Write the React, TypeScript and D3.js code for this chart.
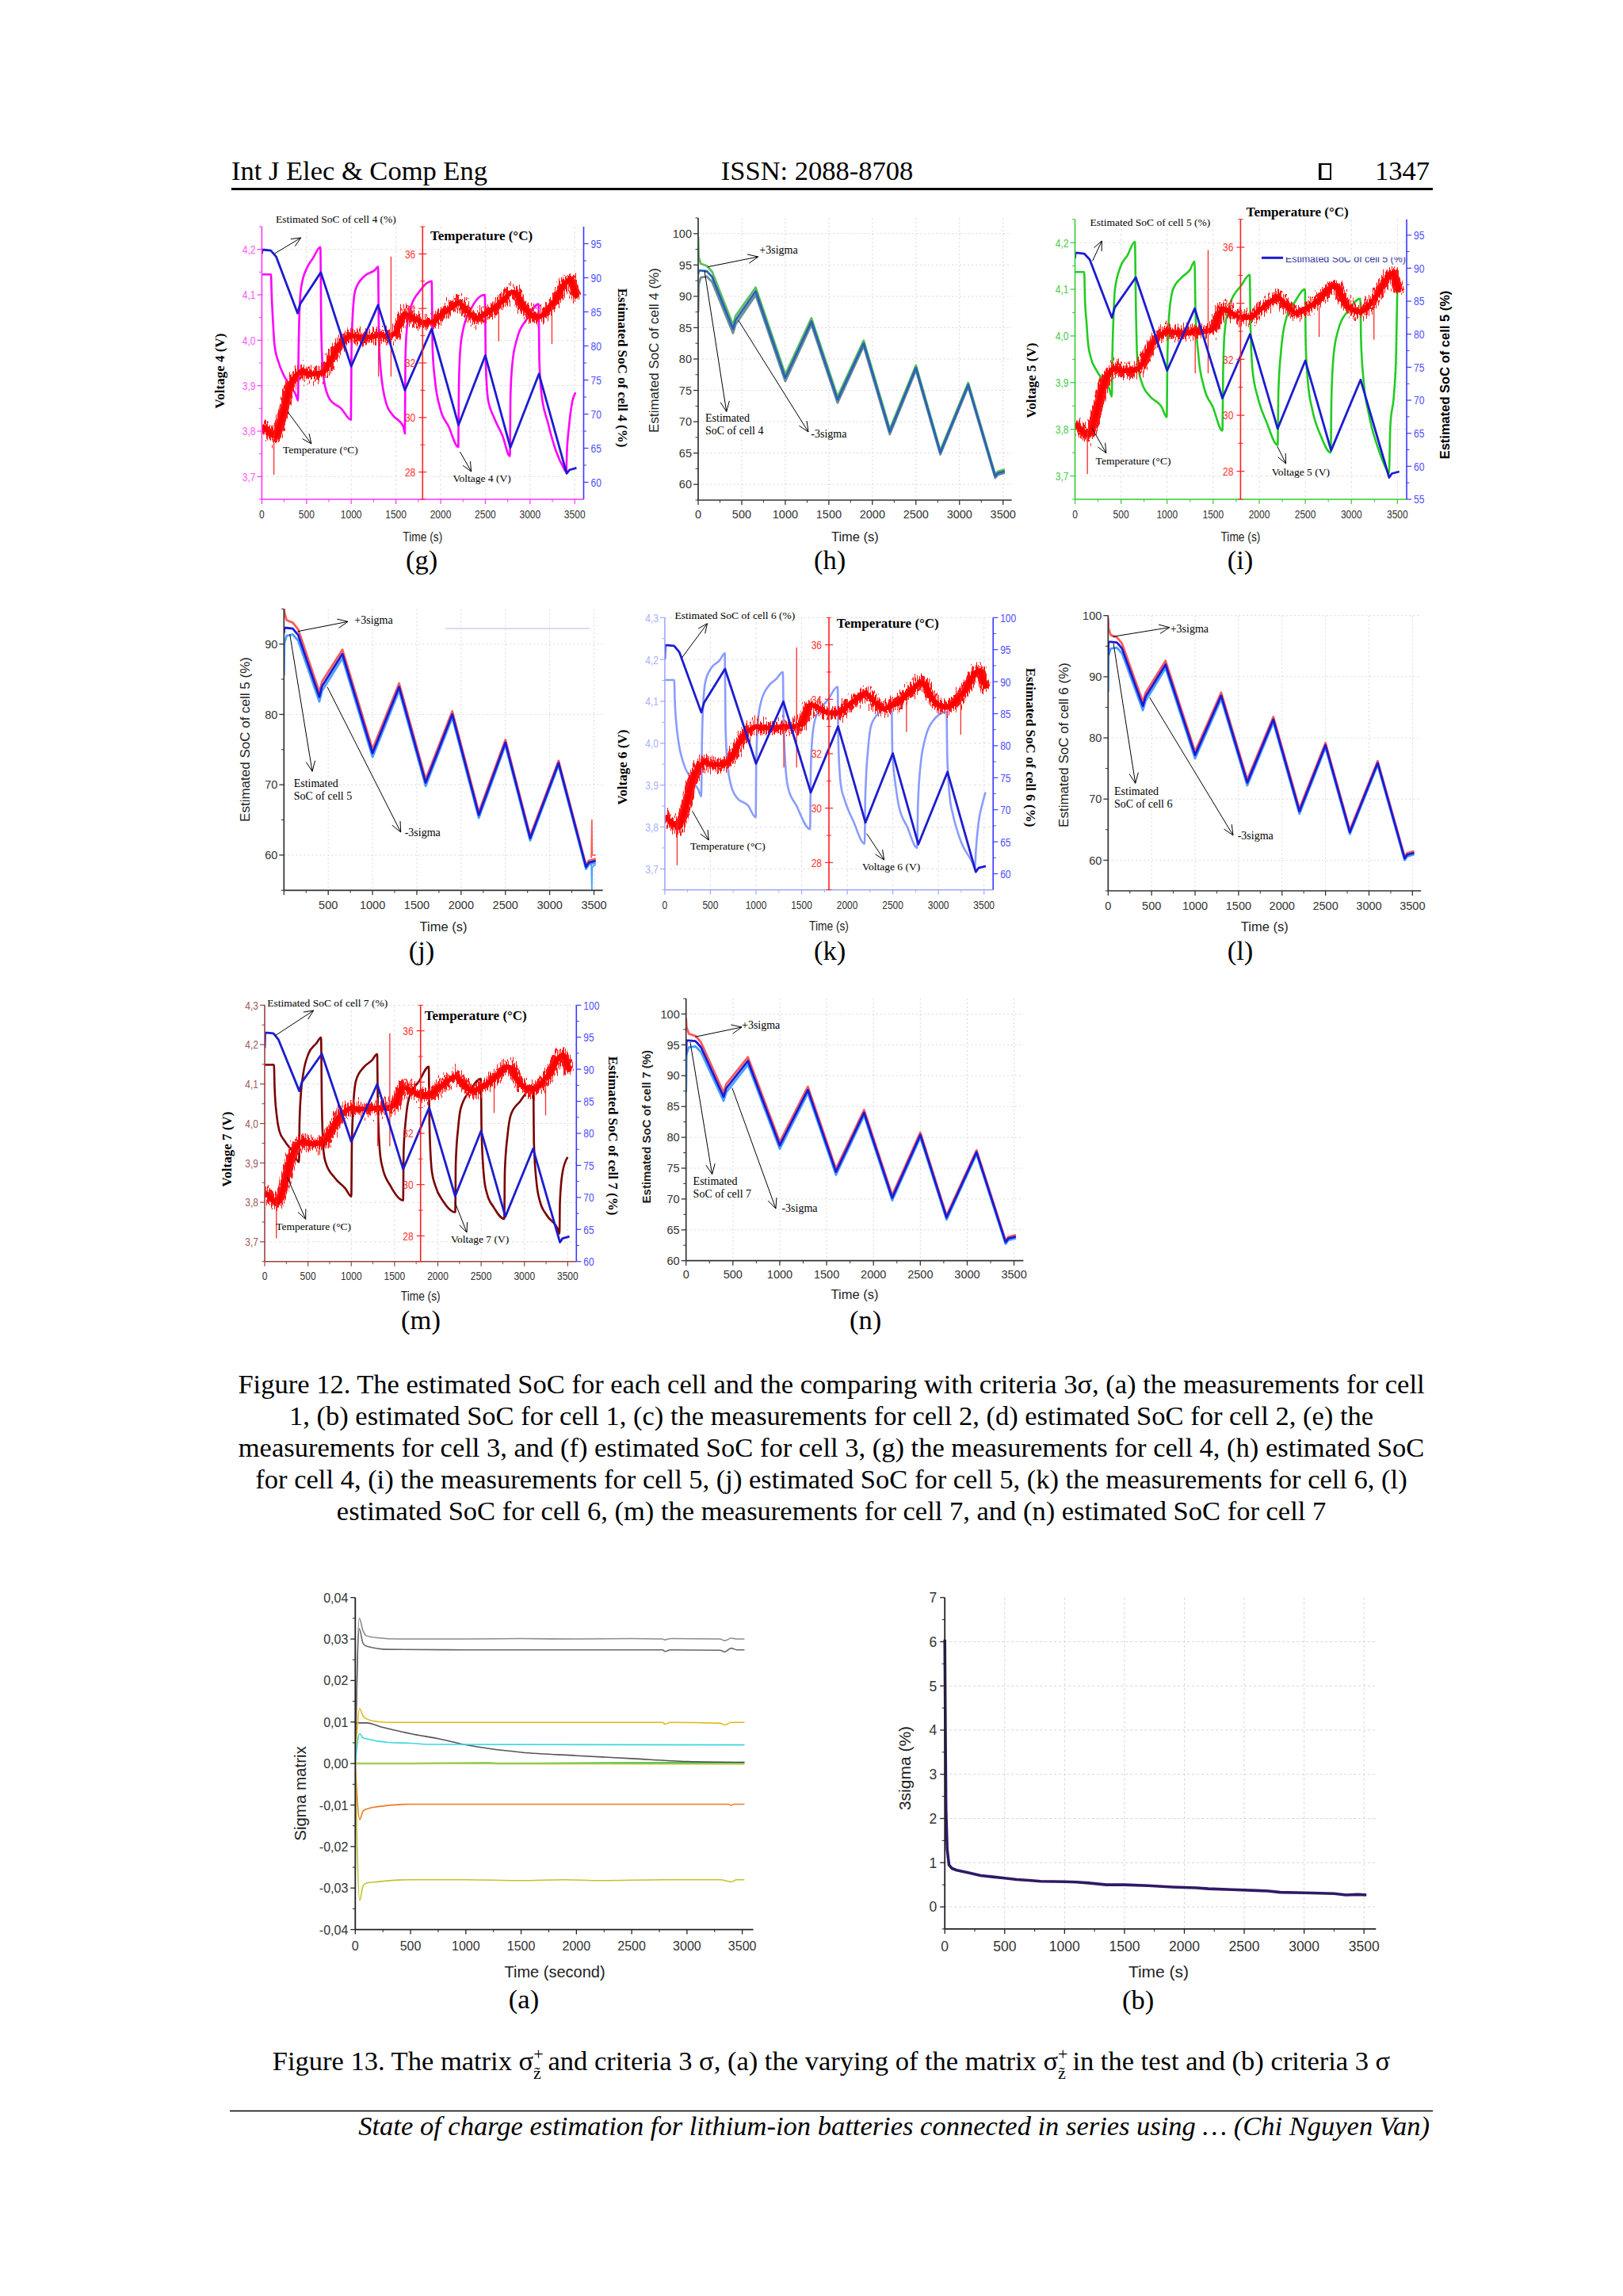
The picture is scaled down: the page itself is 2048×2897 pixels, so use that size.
import React from 'react';
import * as d3 from 'd3';

const SERIF = "'Liberation Serif','Times New Roman',Times,serif";
const SANS = "'Liberation Sans',Arial,Helvetica,sans-serif";
const BODY = 34.5;

// ---------------- data ----------------
const xDomain = [0, 3600];
const timeMajor = [0, 500, 1000, 1500, 2000, 2500, 3000, 3500];
const timeMinor = [250, 750, 1250, 1750, 2250, 2750, 3250];
const tempDomain = [27, 37];
const tempTicks = [28, 30, 32, 34, 36];
const tempMinor = [27, 29, 31, 33, 35, 37];
const volt42Ticks = [3.7, 3.8, 3.9, 4.0, 4.1, 4.2];
const volt43Ticks = [3.7, 3.8, 3.9, 4.0, 4.1, 4.2, 4.3];
const socTicks55 = [55, 60, 65, 70, 75, 80, 85, 90, 95];
const socTicks60 = [60, 65, 70, 75, 80, 85, 90, 95];
const socTicks60to100 = [60, 65, 70, 75, 80, 85, 90, 95, 100];
const socTicks10 = [60, 70, 80, 90];
const socTicks10to100 = [60, 70, 80, 90, 100];

const socTimes = [0, 5, 30, 100, 120, 160, 400, 430, 660, 1000, 1300, 1600, 1900, 2200, 2500, 2780, 3100, 3410, 3440, 3520];
const socCell4 = [93.5, 94.1, 94.1, 94.0, 93.7, 93.1, 84.8, 86.2, 90.8, 77.0, 86.0, 73.5, 82.5, 68.4, 78.6, 65.1, 75.9, 61.3, 61.8, 62.1];
const socCell5 = [91.5, 92.3, 92.3, 92.2, 91.9, 91.3, 82.5, 84.0, 88.6, 74.5, 83.9, 70.3, 80.0, 65.7, 76.0, 62.4, 73.1, 58.3, 58.9, 59.2];
const socCell6 = [93.5, 95.7, 95.7, 95.6, 95.3, 94.6, 85.2, 86.7, 92.0, 77.2, 86.9, 72.7, 83.0, 68.0, 78.8, 64.6, 75.9, 60.3, 60.9, 61.2];
const socCell7 = [93.3, 95.7, 95.7, 95.6, 95.3, 94.6, 86.6, 88.0, 92.4, 78.7, 87.7, 74.4, 84.0, 70.2, 80.4, 67.0, 77.6, 63.0, 63.6, 63.9];
const sigmaBand = [6.0, 2.2, 1.1, 0.85, 0.84, 0.8, 0.68, 0.67, 0.61, 0.56, 0.52, 0.49, 0.45, 0.42, 0.39, 0.33, 0.31, 0.28, 0.28, 0.27];
// end-of-test glitches on the +/-3sigma bounds of cell 5: [time, from, to]
const cell5UpperGlitch = [3476, 59.6, 65.0];
const cell5LowerGlitch = [3476, 58.9, 55.0];

const voltCell4 = [[0,4.145],[102,4.145],[110,4.10],[125,4.04],[142,3.99],[190,3.95],[253,3.92],[317,3.90],[380,3.88],[405,3.867],
  [410,3.96],[425,4.08],[443,4.12],[507,4.16],[570,4.18],[655,4.205],
  [665,4.02],[680,3.94],[697,3.91],[760,3.87],[887,3.85],[997,3.825],
  [1003,3.98],[1015,4.05],[1045,4.11],[1140,4.14],[1267,4.155],[1300,4.162],
  [1310,4.00],[1330,3.935],[1393,3.86],[1457,3.837],[1583,3.81],[1600,3.795],
  [1606,3.96],[1620,4.02],[1647,4.06],[1773,4.11],[1900,4.13],
  [1910,3.98],[1938,3.91],[1995,3.85],[2090,3.81],[2198,3.765],
  [2204,3.90],[2220,3.98],[2248,4.02],[2343,4.07],[2495,4.10],
  [2505,3.95],[2530,3.87],[2597,3.83],[2692,3.79],[2775,3.745],
  [2782,3.88],[2803,3.95],[2850,4.00],[2977,4.05],[3095,4.08],
  [3105,3.95],[3130,3.88],[3198,3.82],[3293,3.755],[3373,3.72],[3405,3.71],
  [3412,3.75],[3436,3.81],[3468,3.86],[3510,3.885]];
const voltCell5 = [[0,4.137],[100,4.137],[108,4.08],[125,4.03],[139,3.99],[170,3.955],[231,3.927],[293,3.908],[370,3.888],[400,3.87],
  [405,3.95],[418,4.04],[432,4.097],[493,4.148],[570,4.173],[650,4.202],
  [662,4.05],[678,3.944],[725,3.90],[817,3.87],[940,3.848],[996,3.826],
  [1003,3.95],[1018,4.035],[1064,4.10],[1156,4.125],[1249,4.142],[1298,4.16],
  [1308,4.05],[1341,3.956],[1403,3.888],[1496,3.848],[1600,3.797],
  [1608,3.92],[1625,4.01],[1681,4.068],[1804,4.108],[1897,4.131],
  [1905,4.02],[1927,3.927],[1989,3.865],[2082,3.814],[2200,3.766],
  [2208,3.88],[2236,3.967],[2282,4.03],[2390,4.074],[2496,4.10],
  [2505,3.98],[2529,3.90],[2575,3.843],[2668,3.786],[2776,3.75],
  [2784,3.87],[2806,3.956],[2853,4.01],[2976,4.057],[3097,4.08],
  [3105,3.99],[3130,3.91],[3192,3.83],[3284,3.763],[3392,3.71],[3408,3.705],
  [3423,3.808],[3463,3.876],[3485,3.956],[3500,4.114]];
const voltCell6 = [[0,4.151],[103,4.151],[110,4.10],[125,4.05],[150,4.003],[196,3.958],[290,3.914],[368,3.889],[400,3.873],
  [405,3.97],[420,4.09],[446,4.148],[508,4.179],[602,4.198],[658,4.215],
  [665,4.05],[685,3.95],[711,3.914],[789,3.87],[913,3.851],[997,3.823],
  [1003,3.96],[1020,4.05],[1053,4.097],[1131,4.135],[1225,4.154],[1294,4.17],
  [1303,4.05],[1322,3.95],[1350,3.895],[1443,3.851],[1593,3.795],
  [1600,3.93],[1620,4.02],[1661,4.066],[1786,4.103],[1895,4.135],
  [1903,4.00],[1930,3.90],[1973,3.864],[2067,3.814],[2191,3.76],
  [2198,3.87],[2230,3.99],[2269,4.047],[2378,4.078],[2487,4.091],
  [2495,3.98],[2530,3.90],[2565,3.851],[2659,3.80],[2768,3.75],
  [2775,3.85],[2810,3.96],[2846,4.003],[2939,4.053],[3089,4.075],
  [3097,3.97],[3125,3.87],[3157,3.832],[3251,3.763],[3376,3.713],[3400,3.70],
  [3410,3.74],[3438,3.807],[3485,3.858],[3516,3.883]];
const voltCell7 = [[0,4.149],[107,4.149],[115,4.09],[138,4.022],[168,3.982],[229,3.956],[321,3.929],[397,3.902],
  [402,4.00],[420,4.08],[443,4.123],[504,4.176],[596,4.203],[651,4.218],
  [660,4.05],[680,3.93],[703,3.902],[810,3.862],[932,3.835],[1000,3.815],
  [1007,3.95],[1025,4.05],[1055,4.109],[1146,4.143],[1238,4.16],[1299,4.176],
  [1307,4.05],[1330,3.93],[1360,3.889],[1452,3.842],[1599,3.805],
  [1605,3.93],[1630,4.01],[1666,4.063],[1788,4.109],[1895,4.144],
  [1903,4.00],[1930,3.88],[1971,3.842],[2063,3.802],[2201,3.775],
  [2207,3.90],[2235,3.99],[2262,4.036],[2369,4.083],[2497,4.113],
  [2505,3.98],[2535,3.86],[2568,3.822],[2644,3.788],[2767,3.758],
  [2774,3.88],[2805,3.97],[2843,4.022],[2950,4.056],[3103,4.093],
  [3110,3.95],[3140,3.85],[3180,3.802],[3256,3.768],[3393,3.728],[3405,3.72],
  [3410,3.80],[3439,3.875],[3500,3.915]];

const tempTimes = [0, 100, 150, 200, 250, 300, 350, 400, 450, 500, 600, 700, 750, 800, 900, 950, 1000, 1100, 1200, 1300, 1400, 1500, 1550, 1600, 1700, 1800, 1900, 2000, 2100, 2200, 2300, 2400, 2500, 2600, 2700, 2800, 2850, 2900, 3000, 3100, 3200, 3300, 3400, 3450, 3500, 3520];
const tempValues = [29.7, 29.4, 29.3, 29.7, 30.3, 31.0, 31.4, 31.6, 31.7, 31.6, 31.6, 31.7, 32.0, 32.3, 32.8, 32.9, 33.0, 32.95, 32.95, 33.0, 33.0, 33.1, 33.5, 33.8, 33.65, 33.5, 33.5, 33.75, 34.0, 34.2, 33.9, 33.65, 33.8, 34.0, 34.3, 34.6, 34.55, 34.2, 33.8, 33.7, 33.95, 34.4, 34.96, 35.05, 34.6, 34.4];
const tempSpikes = [[135, 29.4, 27.9], [1305, 33.0, 31.5], [1445, 31.5, 35.9], [2650, 33.9, 32.8], [3245, 34.1, 32.7]];

// Figure 13 (a): sigma matrix entries
const sigA1 = [[0,0],[36,0.035],[70,0.032],[100,0.0308],[200,0.0303],[400,0.0300],[1000,0.0300],[1500,0.0301],[2000,0.0300],[2500,0.0301],[2780,0.0300],[2800,0.0298],[2850,0.0301],[3300,0.0300],[3340,0.0296],[3400,0.0302],[3450,0.0300],[3520,0.0300]];
const sigA2 = [[0,0],[36,0.0325],[70,0.029],[100,0.0283],[300,0.0275],[1000,0.0274],[2000,0.0274],[2780,0.0274],[2800,0.0270],[2850,0.0274],[3300,0.0273],[3340,0.0269],[3400,0.0278],[3450,0.0274],[3520,0.0274]];
const sigA3 = [[0,0],[40,0.0132],[70,0.0115],[100,0.0108],[200,0.0101],[300,0.0099],[2780,0.0099],[2800,0.0095],[2850,0.0099],[3300,0.0097],[3340,0.0093],[3400,0.0099],[3520,0.0099]];
const sigA4 = [[0,0.0098],[100,0.0098],[250,0.0087],[500,0.0072],[750,0.006],[1000,0.0045],[1500,0.0027],[2000,0.0019],[2500,0.0012],[3000,0.0005],[3520,0.0003]];
const sigA5 = [[0,0],[40,0.0072],[70,0.0062],[100,0.006],[200,0.0054],[300,0.0051],[500,0.0049],[700,0.0046],[3520,0.0045]];
const sigA6 = [[0,0],[500,0.0],[1200,0.0001],[1300,0.0],[3520,0.0002]];
const sigA7 = [[0,0],[3520,-0.0002]];
const sigA8 = [[0,0],[40,-0.0135],[70,-0.0115],[100,-0.011],[200,-0.0104],[500,-0.0098],[3380,-0.0098],[3400,-0.0101],[3420,-0.0098],[3520,-0.0098]];
const sigA9 = [[0,0],[40,-0.033],[70,-0.0295],[100,-0.0288],[200,-0.0285],[500,-0.0280],[1000,-0.0280],[1500,-0.0282],[1900,-0.0280],[2200,-0.0282],[2800,-0.0280],[3300,-0.0280],[3400,-0.0285],[3450,-0.028],[3520,-0.028]];
const sigATicks = [-0.04, -0.03, -0.02, -0.01, 0, 0.01, 0.02, 0.03, 0.04];

// Figure 13 (b): 3 sigma (%)
const threeSigma = [[0,6.05],[5,4.0],[10,2.2],[20,1.3],[35,0.95],[60,0.87],[100,0.83],[200,0.77],[300,0.71],[400,0.68],[500,0.65],[600,0.62],[700,0.6],[800,0.58],[1000,0.57],[1100,0.56],[1200,0.54],[1350,0.5],[1500,0.5],[1700,0.48],[1900,0.45],[2100,0.43],[2200,0.41],[2400,0.39],[2600,0.37],[2700,0.36],[2800,0.33],[3000,0.32],[3250,0.3],[3350,0.27],[3450,0.28],[3520,0.27]];
const threeSigmaTicks = [0, 1, 2, 3, 4, 5, 6, 7];

const caption12 = [
  'Figure 12. The estimated SoC for each cell and the comparing with criteria 3σ, (a) the measurements for cell',
  '1, (b) estimated SoC for cell 1, (c) the measurements for cell 2, (d) estimated SoC for cell 2, (e) the',
  'measurements for cell 3, and (f) estimated SoC for cell 3, (g) the measurements for cell 4, (h) estimated SoC',
  'for cell 4, (i) the measurements for cell 5, (j) estimated SoC for cell 5, (k) the measurements for cell 6, (l)',
  'estimated SoC for cell 6, (m) the measurements for cell 7, and (n) estimated SoC for cell 7',
];
const footerText = 'State of charge estimation for lithium-ion batteries connected in series using … (Chi Nguyen Van)';

// ---------------- layouts ----------------
const gLay = { L: 330.4, R: 736.5, redX: 533.3, T: 286, B: 630, vDom: [3.65, 4.25], vTicks: volt42Ticks, socDom: [57.5, 97.5], socTicks: socTicks60,
  vColor: '#ff00ff', vAxis: '#ff33ff', vLab: '#ff55ff', cell: 4, leftLabel: [277, 468], rightLabel: [786, 464], rightRot: 90, rightSans: false,
  tempTitle: [543, 303], socNote: [348, 281], tempNote: [357, 572], voltNote: [571.5, 608],
  socArrow: [346.5, 320, 379.7, 300], tempArrow: [363.3, 520, 392.9, 560], voltArrow: [580.4, 570, 594.7, 595],
  xLabY: 654, timeY: 683, sub: '(g)', subPos: [532, 718] };
const iLay = { L: 1356.5, R: 1775, redX: 1565.4, T: 276.7, B: 630, vDom: [3.65, 4.25], vTicks: volt42Ticks, socDom: [55, 97.4], socTicks: socTicks55,
  vColor: '#22cc22', vAxis: '#33cc33', vLab: '#44cc44', cell: 5, leftLabel: [1301, 480], rightLabel: [1822.6, 473], rightRot: -90, rightSans: true,
  tempTitle: [1572.6, 273], socNote: [1375.4, 285], tempNote: [1382.6, 586], voltNote: [1604.7, 600],
  socArrow: [1378.6, 329.3, 1390.4, 304], tempArrow: [1377.9, 540, 1395.8, 571.7], voltArrow: [1611.9, 563.3, 1622.6, 585],
  xLabY: 654, timeY: 683, sub: '(i)', subPos: [1565, 718], legend: true };
const kLay = { L: 838.9, R: 1253.2, redX: 1046, T: 779.3, B: 1122.7, vDom: [3.65, 4.3], vTicks: volt43Ticks, socDom: [57.5, 100], socTicks: socTicks60to100,
  vColor: '#8a9bff', vAxis: '#a0a8ff', vLab: '#a8b0ff', cell: 6, leftLabel: [785, 968], rightLabel: [1301.4, 943], rightRot: 90, rightSans: false,
  tempTitle: [1055.7, 791.7], socNote: [851.4, 780.7], tempNote: [871, 1071.7], voltNote: [1087.9, 1098.3],
  socArrow: [860.4, 830, 892.5, 786.7], tempArrow: [873.6, 1023.3, 894.3, 1060], voltArrow: [1093.6, 1051.7, 1115.7, 1085],
  xLabY: 1147, timeY: 1174, sub: '(k)', subPos: [1047, 1211] };
const mLay = { L: 334, R: 727.3, redX: 530.7, T: 1268.3, B: 1591.7, vDom: [3.65, 4.3], vTicks: volt43Ticks, socDom: [60, 100], socTicks: socTicks60to100,
  vColor: '#7a0000', vAxis: '#9c4040', vLab: '#a05a5a', cell: 7, leftLabel: [285.7, 1450], rightLabel: [774, 1433], rightRot: 90, rightSans: false,
  tempTitle: [535.7, 1286.7], socNote: [337.3, 1270], tempNote: [348.3, 1551.7], voltNote: [569, 1568.3],
  socArrow: [347.3, 1306.7, 395.7, 1275], tempArrow: [362.3, 1485, 385.7, 1538.3], voltArrow: [574, 1516.7, 589, 1555],
  xLabY: 1615, timeY: 1641, sub: '(m)', subPos: [531, 1677] };

const blueSet = { up: '#ff5a5a', est: '#1a1ad8', lo: '#4aa0ff' };
const hLay = { L: 881, R: 1276.7, T: 275, B: 631, yDom: [57.5, 102.5], yTicks: socTicks60to100, yMinorStep: 2.5, showZero: true, cell: 4,
  yLab: [825, 442], yLabBold: false, yLabSize: 17, xLabY: 654, timeY: 683, sub: '(h)', subPos: [1047, 718],
  cols: { up: '#5cbf5c', est: '#2a62b8', lo: '#6f8f99' }, plus: [958.3, 320], est: [890, 531.7], minus: [1023.3, 551.7],
  aPlus: [893.3, 336.7, 956.7, 324], aEst: [889, 341.7, 916.7, 519.3], aMinus: [931.7, 404, 1020, 545] };
const jLay = { L: 358.3, R: 760.7, T: 768.3, B: 1123.3, yDom: [55, 95], yTicks: socTicks10, yMinorStep: 5, showZero: false, cell: 5,
  yLab: [309, 933], yLabBold: false, yLabSize: 17, xLabY: 1147, timeY: 1175, sub: '(j)', subPos: [532, 1211],
  cols: blueSet, plus: [447.3, 786.7], est: [370.7, 993.3], minus: [510.7, 1055],
  aPlus: [375.7, 796.7, 439, 784.3], aEst: [365.7, 800, 394, 973.3], aMinus: [413, 866.7, 505.7, 1050], stray: [562, 793, 744],
  glitchUp: cell5UpperGlitch, glitchLo: cell5LowerGlitch };
const lLay = { L: 1398.3, R: 1793.3, T: 776.7, B: 1124, yDom: [55, 100], yTicks: socTicks10to100, yMinorStep: 5, showZero: true, cell: 6,
  yLab: [1341.7, 940], yLabBold: false, yLabSize: 17, xLabY: 1148, timeY: 1175, sub: '(l)', subPos: [1565, 1211],
  cols: blueSet, plus: [1476.7, 798.3], est: [1406, 1003.3], minus: [1561.7, 1059.3],
  aPlus: [1404, 803.3, 1475.7, 791.7], aEst: [1405, 811.7, 1432.7, 988.3], aMinus: [1450.7, 880, 1556, 1054] };
const nLay = { L: 865.7, R: 1291.4, T: 1260, B: 1590.7, yDom: [60, 102.5], yTicks: socTicks60to100, yMinorStep: 2.5, showZero: true, cell: 7,
  yLab: [815.7, 1421.7], yLabBold: true, yLabSize: 15, xLabY: 1613, timeY: 1639, sub: '(n)', subPos: [1092, 1677],
  cols: blueSet, plus: [936, 1298.3], est: [874.6, 1495], minus: [986.4, 1529.3],
  aPlus: [877.1, 1308.3, 936, 1296], aEst: [871, 1315, 898.6, 1481.7], aMinus: [923.9, 1372.7, 978.9, 1525] };

// ---------------- helpers ----------------
function Txt(p: any) {
  const { x, y, size = 14, fam = SERIF, w = 'normal', anchor = 'start', fill = '#000', rot = 0, sx = 1, it = false, children } = p;
  let tr = `translate(${x},${y})`;
  if (rot) tr += ` rotate(${rot})`;
  if (sx !== 1) tr += ` scale(${sx},1)`;
  return (
    <text transform={tr} fontSize={size} fontFamily={fam} fontWeight={w} textAnchor={anchor} fill={fill} fontStyle={it ? 'italic' : 'normal'}>
      {children}
    </text>
  );
}
function VTxt(p: any) {
  const { cx, cy, rot, size, ...rest } = p;
  const bx = cx + (rot < 0 ? 0.36 : -0.36) * size;
  return <Txt x={bx} y={cy} rot={rot} size={size} anchor="middle" {...rest} />;
}
function Arrow({ a, head = 13, spread = 0.42, color = '#000', width = 1 }: any) {
  const [x1, y1, x2, y2] = a;
  const ang = Math.atan2(y2 - y1, x2 - x1);
  const h1 = [x2 - head * Math.cos(ang - spread), y2 - head * Math.sin(ang - spread)];
  const h2 = [x2 - head * Math.cos(ang + spread), y2 - head * Math.sin(ang + spread)];
  return (
    <g stroke={color} strokeWidth={width} fill="none">
      <line x1={x1} y1={y1} x2={x2} y2={y2} />
      <polyline points={`${h1[0]},${h1[1]} ${x2},${y2} ${h2[0]},${h2[1]}`} />
    </g>
  );
}
const comma = (v: number, d: number) => v.toFixed(d).replace('.', ',');

// ---------------- measurement chart ----------------
function Meas({ c, volt, soc }: any) {
  const x = d3.scaleLinear().domain(xDomain).range([c.L, c.R]);
  const yV = d3.scaleLinear().domain(c.vDom).range([c.B, c.T]);
  const yT = d3.scaleLinear().domain(tempDomain).range([c.B, c.T]);
  const yS = d3.scaleLinear().domain(c.socDom).range([c.B, c.T]);
  const vPath = d3.line<any>().x((d: any) => x(d[0])).y((d: any) => yV(d[1])).curve(d3.curveMonotoneX)(volt) || '';
  const tPath = d3.line<any>().x((_: any, i: number) => x(tempTimes[i])).y((d: any) => yT(d)).curve(d3.curveMonotoneX)(tempValues) || '';
  const sPath = d3.line<any>().x((_: any, i: number) => x(socTimes[i])).y((d: any) => yS(d))(soc) || '';
  const vMinor = d3.range(c.vDom[0], c.vDom[1] + 0.001, 0.1);
  const sMinor = c.socTicks.map((v: number) => v + 2.5).filter((v: number) => v < c.socDom[1]);
  const cid = 'clipM' + c.cell;
  const ls = 15, lsx = 0.8;
  return (
    <g>
      <defs>
        <clipPath id={cid}><rect x={c.L} y={c.T - 3} width={c.R - c.L} height={c.B - c.T + 3} /></clipPath>
      </defs>
      <g stroke="#e0e0e0" strokeWidth={1} strokeDasharray="3,3">
        {timeMajor.slice(1).map((t) => <line key={t} x1={x(t)} x2={x(t)} y1={c.T} y2={c.B} />)}
        {c.vTicks.map((v: number) => <line key={v} x1={c.L} x2={c.R} y1={yV(v)} y2={yV(v)} />)}
      </g>
      <g clipPath={`url(#${cid})`} fill="none" strokeLinejoin="round">
        <path d={vPath} stroke={c.vColor} strokeWidth={2.6} />
        <path d={tPath} stroke="#ff1414" strokeWidth={13} filter="url(#tnoise)" />
        <path d={tPath} stroke="#ff0000" strokeWidth={6} />
        {tempSpikes.map((s, i) => (
          <line key={i} x1={x(s[0])} x2={x(s[0])} y1={yT(s[1])} y2={yT(s[2])} stroke="#ff2a2a" strokeWidth={1.3} />
        ))}
        <path d={sPath} stroke="#1c1cd0" strokeWidth={2.8} />
      </g>
      {/* bottom axis */}
      <line x1={c.L} x2={c.R} y1={c.B} y2={c.B} stroke={c.vAxis} strokeWidth={1.6} />
      {timeMajor.map((t) => <line key={'M' + t} x1={x(t)} x2={x(t)} y1={c.B} y2={c.B + 6} stroke={c.vAxis} strokeWidth={1.2} />)}
      {timeMinor.map((t) => <line key={'m' + t} x1={x(t)} x2={x(t)} y1={c.B} y2={c.B + 3.5} stroke={c.vAxis} strokeWidth={1} />)}
      {timeMajor.map((t) => <Txt key={'l' + t} x={x(t)} y={c.xLabY} size={ls} fam={SANS} anchor="middle" sx={lsx} fill="#333">{t}</Txt>)}
      <Txt x={c.redX} y={c.timeY} size={16} fam={SANS} anchor="middle" sx={0.86} fill="#222">Time (s)</Txt>
      {/* left voltage axis */}
      <line x1={c.L} x2={c.L} y1={c.T} y2={c.B} stroke={c.vAxis} strokeWidth={1.6} />
      {c.vTicks.map((v: number) => <line key={'vt' + v} x1={c.L - 6} x2={c.L} y1={yV(v)} y2={yV(v)} stroke={c.vAxis} strokeWidth={1.2} />)}
      {vMinor.map((v: number, i: number) => <line key={'vm' + i} x1={c.L - 3.5} x2={c.L} y1={yV(v)} y2={yV(v)} stroke={c.vAxis} strokeWidth={1} />)}
      {c.vTicks.map((v: number) => <Txt key={'vl' + v} x={c.L - 8} y={yV(v) + ls * 0.36} size={ls} fam={SANS} anchor="end" sx={lsx} fill={c.vLab}>{comma(v, 1)}</Txt>)}
      {/* temperature axis */}
      <line x1={c.redX} x2={c.redX} y1={c.T} y2={c.B} stroke="#ff2020" strokeWidth={1.6} />
      {tempTicks.map((v) => <line key={'tt' + v} x1={c.redX - 5} x2={c.redX + 5} y1={yT(v)} y2={yT(v)} stroke="#ff2020" strokeWidth={1.2} />)}
      {tempMinor.map((v) => <line key={'tm' + v} x1={c.redX - 3} x2={c.redX + 3} y1={yT(v)} y2={yT(v)} stroke="#ff2020" strokeWidth={1} />)}
      {tempTicks.map((v) => <Txt key={'tl' + v} x={c.redX - 9} y={yT(v) + ls * 0.36} size={ls} fam={SANS} anchor="end" sx={lsx} fill="#ff3030">{v}</Txt>)}
      {/* SoC axis */}
      <line x1={c.R} x2={c.R} y1={c.T} y2={c.B} stroke="#3a3aff" strokeWidth={1.6} />
      {c.socTicks.map((v: number) => <line key={'st' + v} x1={c.R} x2={c.R + 6} y1={yS(v)} y2={yS(v)} stroke="#3a3aff" strokeWidth={1.2} />)}
      {sMinor.map((v: number) => <line key={'sm' + v} x1={c.R} x2={c.R + 3.5} y1={yS(v)} y2={yS(v)} stroke="#3a3aff" strokeWidth={1} />)}
      {c.socTicks.map((v: number) => <Txt key={'sl' + v} x={c.R + 9} y={yS(v) + ls * 0.36} size={ls} fam={SANS} anchor="start" sx={lsx} fill="#4d4dff">{v}</Txt>)}
      {/* titles */}
      <VTxt cx={c.leftLabel[0]} cy={c.leftLabel[1]} rot={-90} size={17} w="bold">{`Voltage ${c.cell} (V)`}</VTxt>
      {c.rightSans ? (
        <VTxt cx={c.rightLabel[0]} cy={c.rightLabel[1]} rot={c.rightRot} size={16.5} w="bold" fam={SANS}>{`Estimated SoC of cell ${c.cell} (%)`}</VTxt>
      ) : (
        <VTxt cx={c.rightLabel[0]} cy={c.rightLabel[1]} rot={c.rightRot} size={17} w="bold">{`Estimated SoC of cell ${c.cell} (%)`}</VTxt>
      )}
      <Txt x={c.tempTitle[0]} y={c.tempTitle[1]} size={17} w="bold">Temperature (°C)</Txt>
      <Txt x={c.socNote[0]} y={c.socNote[1]} size={13.5}>{`Estimated SoC of cell ${c.cell} (%)`}</Txt>
      <Txt x={c.tempNote[0]} y={c.tempNote[1]} size={13.5}>Temperature (°C)</Txt>
      <Txt x={c.voltNote[0]} y={c.voltNote[1]} size={13.5}>{`Voltage ${c.cell} (V)`}</Txt>
      <Arrow a={c.socArrow} />
      <Arrow a={c.tempArrow} />
      <Arrow a={c.voltArrow} />
      {c.legend && (
        <g>
          <defs><clipPath id="legclip"><rect x={1585} y={324.5} width={200} height={14} /></clipPath></defs>
          <line x1={1592} x2={1619} y1={325.3} y2={325.3} stroke="#1c1cd0" strokeWidth={3} />
          <g clipPath="url(#legclip)">
            <Txt x={1622} y={330.5} size={13.5} fam={SANS} sx={0.92} fill="#34349a">{`Estimated SoC of cell ${c.cell} (%)`}</Txt>
          </g>
        </g>
      )}
      <Txt x={c.subPos[0]} y={c.subPos[1]} size={BODY} anchor="middle">{c.sub}</Txt>
    </g>
  );
}

// ---------------- SoC with 3 sigma chart ----------------
function SocC({ c, soc }: any) {
  const x = d3.scaleLinear().domain(xDomain).range([c.L, c.R]);
  const y = d3.scaleLinear().domain(c.yDom).range([c.B, c.T]);
  const mk = (k: number) => d3.line<any>().x((_: any, i: number) => x(socTimes[i])).y((d: any, i: number) => y(d + k * sigmaBand[i]))(soc) || '';
  const yMinor = d3.range(c.yDom[0], c.yDom[1] + 0.001, c.yMinorStep).filter((v: number) => !c.yTicks.includes(v));
  const cid = 'clipS' + c.cell;
  const ls = 14.5;
  const xLabs = c.showZero ? timeMajor : timeMajor.slice(1);
  return (
    <g>
      <defs>
        <clipPath id={cid}><rect x={c.L} y={c.T} width={c.R - c.L} height={c.B - c.T} /></clipPath>
      </defs>
      <g stroke="#d9d9d9" strokeWidth={1} strokeDasharray="2,3">
        {timeMajor.slice(1).map((t) => <line key={t} x1={x(t)} x2={x(t)} y1={c.T} y2={c.B} />)}
        {c.yTicks.map((v: number) => <line key={v} x1={c.L} x2={c.R} y1={y(v)} y2={y(v)} />)}
      </g>
      {c.stray && <line x1={c.stray[0]} x2={c.stray[2]} y1={c.stray[1]} y2={c.stray[1]} stroke="#cfd0e6" strokeWidth={1.5} />}
      <g clipPath={`url(#${cid})`} fill="none" strokeLinejoin="round" strokeWidth={2.8}>
        <path d={mk(-1)} stroke={c.cols.lo} />
        <path d={mk(1)} stroke={c.cols.up} />
        {c.glitchUp && <polyline points={`${x(c.glitchUp[0] - 6)},${y(c.glitchUp[1])} ${x(c.glitchUp[0])},${y(c.glitchUp[2])} ${x(c.glitchUp[0] + 4)},${y(c.glitchUp[1] + 0.4)} ${x(3520)},${y(c.glitchUp[1] + 0.4)}`} stroke={c.cols.up} strokeWidth={1.8} />}
        {c.glitchLo && <polyline points={`${x(c.glitchLo[0] - 6)},${y(c.glitchLo[1])} ${x(c.glitchLo[0])},${y(c.glitchLo[2])} ${x(c.glitchLo[0] + 4)},${y(c.glitchLo[1] - 0.6)} ${x(3520)},${y(c.glitchLo[1] - 0.2)}`} stroke={c.cols.lo} strokeWidth={1.8} />}
        <path d={mk(0)} stroke={c.cols.est} />
      </g>
      <line x1={c.L} x2={c.R} y1={c.B} y2={c.B} stroke="#333" strokeWidth={1.7} />
      <line x1={c.L} x2={c.L} y1={c.T} y2={c.B} stroke="#333" strokeWidth={1.7} />
      {timeMajor.map((t) => <line key={'M' + t} x1={x(t)} x2={x(t)} y1={c.B} y2={c.B + 6} stroke="#333" strokeWidth={1.3} />)}
      {timeMinor.map((t) => <line key={'m' + t} x1={x(t)} x2={x(t)} y1={c.B} y2={c.B + 3.5} stroke="#333" strokeWidth={1} />)}
      {xLabs.map((t) => <Txt key={'l' + t} x={x(t)} y={c.xLabY} size={ls} fam={SANS} anchor="middle" fill="#333">{t}</Txt>)}
      {c.yTicks.map((v: number) => <line key={'yt' + v} x1={c.L - 6} x2={c.L} y1={y(v)} y2={y(v)} stroke="#333" strokeWidth={1.3} />)}
      {yMinor.map((v: number, i: number) => <line key={'ym' + i} x1={c.L - 3.5} x2={c.L} y1={y(v)} y2={y(v)} stroke="#333" strokeWidth={1} />)}
      {c.yTicks.map((v: number) => <Txt key={'yl' + v} x={c.L - 8} y={y(v) + ls * 0.36} size={ls} fam={SANS} anchor="end" fill="#333">{v}</Txt>)}
      <Txt x={(c.L + c.R) / 2} y={c.timeY} size={16.5} fam={SANS} anchor="middle" fill="#222">Time (s)</Txt>
      <VTxt cx={c.yLab[0]} cy={c.yLab[1]} rot={-90} size={c.yLabSize} fam={SANS} w={c.yLabBold ? 'bold' : 'normal'} fill="#222">{`Estimated SoC of cell ${c.cell} (%)`}</VTxt>
      <Txt x={c.plus[0]} y={c.plus[1]} size={14}>+3sigma</Txt>
      <Txt x={c.est[0]} y={c.est[1]} size={14}>Estimated</Txt>
      <Txt x={c.est[0]} y={c.est[1] + 16} size={14}>{`SoC of cell ${c.cell}`}</Txt>
      <Txt x={c.minus[0]} y={c.minus[1]} size={14}>-3sigma</Txt>
      <Arrow a={c.aPlus} head={14} />
      <Arrow a={c.aEst} head={14} />
      <Arrow a={c.aMinus} head={14} />
      <Txt x={c.subPos[0]} y={c.subPos[1]} size={BODY} anchor="middle">{c.sub}</Txt>
    </g>
  );
}

// ---------------- Figure 13 (a) ----------------
function SigmaA() {
  const L = 448.3, R = 950.6, T = 2015.7, B = 2434.6;
  const x = d3.scaleLinear().domain(xDomain).range([L, R]);
  const y = d3.scaleLinear().domain([-0.04, 0.04]).range([B, T]);
  const ln = d3.line<any>().x((d: any) => x(d[0])).y((d: any) => y(d[1])).curve(d3.curveMonotoneX);
  const series = [
    { d: sigA6, c: '#3cb83c', w: 2.4 },
    { d: sigA7, c: '#d2d24a', w: 1.5 },
    { d: sigA4, c: '#555555', w: 1.6 },
    { d: sigA1, c: '#8c8c8c', w: 1.6 },
    { d: sigA2, c: '#666666', w: 1.6 },
    { d: sigA3, c: '#e0b81a', w: 1.6 },
    { d: sigA5, c: '#3ad6e6', w: 1.6 },
    { d: sigA8, c: '#ee7a22', w: 1.6 },
    { d: sigA9, c: '#c2c230', w: 1.6 },
  ];
  const yMinor = d3.range(-0.035, 0.04, 0.01);
  return (
    <g>
      <defs><clipPath id="clipA"><rect x={L} y={T} width={R - L} height={B - T} /></clipPath></defs>
      <g clipPath="url(#clipA)" fill="none">
        {series.map((s, i) => <path key={i} d={ln(s.d) || ''} stroke={s.c} strokeWidth={s.w} />)}
      </g>
      <line x1={L} x2={R} y1={B} y2={B} stroke="#222" strokeWidth={1.8} />
      <line x1={L} x2={L} y1={T} y2={B} stroke="#222" strokeWidth={1.8} />
      {timeMajor.map((t) => <line key={'M' + t} x1={x(t)} x2={x(t)} y1={B} y2={B + 6} stroke="#222" strokeWidth={1.3} />)}
      {timeMinor.map((t) => <line key={'m' + t} x1={x(t)} x2={x(t)} y1={B} y2={B + 3.5} stroke="#222" strokeWidth={1} />)}
      {timeMajor.map((t) => <Txt key={'l' + t} x={x(t)} y={2461} size={16} fam={SANS} anchor="middle" fill="#333">{t}</Txt>)}
      {sigATicks.map((v) => <line key={'yt' + v} x1={L - 6} x2={L} y1={y(v)} y2={y(v)} stroke="#222" strokeWidth={1.3} />)}
      {yMinor.map((v, i) => <line key={'ym' + i} x1={L - 3.5} x2={L} y1={y(v)} y2={y(v)} stroke="#222" strokeWidth={1} />)}
      {sigATicks.map((v) => <Txt key={'yl' + v} x={L - 9} y={y(v) + 6} size={16} fam={SANS} anchor="end" fill="#333">{comma(v, 2)}</Txt>)}
      <Txt x={700} y={2495} size={20} fam={SANS} anchor="middle" fill="#222">Time (second)</Txt>
      <VTxt cx={379} cy={2263} rot={-90} size={20.5} fam={SANS} fill="#222">Sigma matrix</VTxt>
      <Txt x={661} y={2534} size={BODY} anchor="middle">(a)</Txt>
    </g>
  );
}

// ---------------- Figure 13 (b) ----------------
function SigmaB() {
  const L = 1192.2, R = 1736.3, T = 2015.7, B = 2433.9;
  const x = d3.scaleLinear().domain(xDomain).range([L, R]);
  const y = d3.scaleLinear().domain([-0.5, 7]).range([B, T]);
  const ln = d3.line<any>().x((d: any) => x(d[0])).y((d: any) => y(d[1]));
  const yMinor = d3.range(-0.5, 7, 1);
  return (
    <g>
      <g stroke="#d6d6d6" strokeWidth={1} strokeDasharray="3,3">
        {timeMajor.slice(1).map((t) => <line key={t} x1={x(t)} x2={x(t)} y1={T} y2={B} />)}
        {threeSigmaTicks.slice(0, 7).map((v) => <line key={v} x1={L} x2={R} y1={y(v)} y2={y(v)} />)}
      </g>
      <path d={ln(threeSigma) || ''} fill="none" stroke="#2e1a66" strokeWidth={3.6} strokeLinejoin="round" />
      <line x1={L} x2={R} y1={B} y2={B} stroke="#222" strokeWidth={1.8} />
      <line x1={L} x2={L} y1={T} y2={B} stroke="#222" strokeWidth={1.8} />
      {timeMajor.map((t) => <line key={'M' + t} x1={x(t)} x2={x(t)} y1={B} y2={B + 6} stroke="#222" strokeWidth={1.3} />)}
      {timeMinor.map((t) => <line key={'m' + t} x1={x(t)} x2={x(t)} y1={B} y2={B + 3.5} stroke="#222" strokeWidth={1} />)}
      {timeMajor.map((t) => <Txt key={'l' + t} x={x(t)} y={2462} size={17.5} fam={SANS} anchor="middle" fill="#333">{t}</Txt>)}
      {threeSigmaTicks.map((v) => <line key={'yt' + v} x1={L - 6} x2={L} y1={y(v)} y2={y(v)} stroke="#222" strokeWidth={1.3} />)}
      {yMinor.map((v, i) => <line key={'ym' + i} x1={L - 3.5} x2={L} y1={y(v)} y2={y(v)} stroke="#222" strokeWidth={1} />)}
      {threeSigmaTicks.map((v) => <Txt key={'yl' + v} x={L - 10} y={y(v) + 6.3} size={17.5} fam={SANS} anchor="end" fill="#333">{v}</Txt>)}
      <Txt x={1462} y={2495} size={21} fam={SANS} anchor="middle" fill="#222">Time (s)</Txt>
      <VTxt cx={1141} cy={2231} rot={-90} size={21} fam={SANS} fill="#222">3sigma (%)</VTxt>
      <Txt x={1436} y={2535} size={BODY} anchor="middle">(b)</Txt>
    </g>
  );
}

function Header() {
  return (
    <g>
      <Txt x={292} y={227} size={BODY}>{'Int J Elec & Comp Eng'}</Txt>
      <Txt x={1031} y={227} size={BODY} anchor="middle">ISSN: 2088-8708</Txt>
      <rect x={1665} y={207} width={14} height={19} fill="#fff" stroke="#000" strokeWidth={2} />
      <line x1={1666} x2={1666} y1={207} y2={226} stroke="#000" strokeWidth={3} />
      <Txt x={1804} y={227} size={BODY} anchor="end">1347</Txt>
      <line x1={292} x2={1808} y1={238.5} y2={238.5} stroke="#000" strokeWidth={3} />
    </g>
  );
}

function Caption12() {
  const base = [1758, 1798, 1838, 1878, 1918];
  return (
    <g>
      {caption12.map((s, i) => <Txt key={i} x={1049} y={base[i]} size={BODY} anchor="middle">{s}</Txt>)}
    </g>
  );
}

function Caption13() {
  return (
    <text x={1049} y={2612} fontSize={BODY} fontFamily={SERIF} textAnchor="middle" fill="#000">
      Figure 13. The matrix σ
      <tspan fontSize={22} dy={-13}>+</tspan>
      <tspan fontSize={22} dx={-12.5} dy={24}>{'z\u0303'}</tspan>
      <tspan dy={-11}> and criteria 3 σ, (a) the varying of the matrix σ</tspan>
      <tspan fontSize={22} dy={-13}>+</tspan>
      <tspan fontSize={22} dx={-12.5} dy={24}>{'z\u0303'}</tspan>
      <tspan dy={-11}> in the test and (b) criteria 3 σ</tspan>
    </text>
  );
}

function Footer() {
  return (
    <g>
      <line x1={290} x2={1808} y1={2663.5} y2={2663.5} stroke="#000" strokeWidth={1.6} />
      <Txt x={1804} y={2694} size={BODY} anchor="end" it>{footerText}</Txt>
    </g>
  );
}

export default function App() {
  return (
    <svg width={2048} height={2897} viewBox="0 0 2048 2897" style={{ position: 'absolute', left: 0, top: 0, background: '#ffffff' }}>
      <defs>
        <filter id="tnoise" x="-3%" y="-50%" width="106%" height="200%" colorInterpolationFilters="sRGB">
          <feTurbulence type="fractalNoise" baseFrequency="1.1 0.1" numOctaves={2} seed={4} result="n" />
          <feColorMatrix in="n" type="matrix" values="0 0 0 0 0.5  0 1 0 0 0  0 0 1 0 0  0 0 0 0 1" result="m" />
          <feDisplacementMap in="SourceGraphic" in2="m" scale={30} xChannelSelector="R" yChannelSelector="G" />
        </filter>
      </defs>
      <rect width={2048} height={2897} fill="#fff" />
      <Header />
      <Meas c={gLay} volt={voltCell4} soc={socCell4} />
      <SocC c={hLay} soc={socCell4} />
      <Meas c={iLay} volt={voltCell5} soc={socCell5} />
      <SocC c={jLay} soc={socCell5} />
      <Meas c={kLay} volt={voltCell6} soc={socCell6} />
      <SocC c={lLay} soc={socCell6} />
      <Meas c={mLay} volt={voltCell7} soc={socCell7} />
      <SocC c={nLay} soc={socCell7} />
      <Caption12 />
      <SigmaA />
      <SigmaB />
      <Caption13 />
      <Footer />
    </svg>
  );
}
